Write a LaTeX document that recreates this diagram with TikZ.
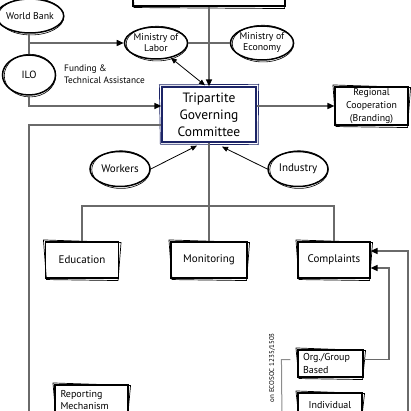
\documentclass[tikz,border=0pt]{standalone}
\usepackage{fontspec}
\setmainfont{PT Sans}
\usetikzlibrary{arrows.meta,shapes.geometric,calc}
\definecolor{lgrey}{HTML}{6A6A6A}
\definecolor{navy}{HTML}{1C2466}
\newcommand{\sketchbox}[1]{\draw[line width=0.7pt] ([shift={(-1.5,-1.5)}]#1.north west) -- ([shift={(2,1)}]#1.north east) -- ([shift={(-1,2)}]#1.south east) -- ([shift={(1.5,1)}]#1.south west) -- cycle;}
\newcommand{\sketchell}[1]{\draw[line width=0.6pt] let \p1=($(#1.east)-(#1.center)$), \p2=($(#1.north)-(#1.center)$) in ([xshift=1pt,yshift=-0.6pt]#1.center) ellipse [x radius=\x1-1.5pt, y radius=\y2+0.6pt];}
\begin{document}
\begin{tikzpicture}[x=1pt,y=-1pt,
  conn/.style={draw=lgrey, line width=1.5pt},
  arr/.style={-{Triangle[length=7pt,width=6pt,color=black]}},
  thinarr/.style={draw=black, line width=0.8pt, -{Triangle[length=6pt,width=5pt]}},
  ell/.style={ellipse, draw, line width=1.5pt, inner sep=0pt, font=\fontsize{9.8}{11}\selectfont, align=center},
  sbox/.style={rectangle, draw, line width=1.1pt, inner sep=0pt, align=center, font=\fontsize{11}{13}\selectfont},
]
\useasboundingbox (0,0) rectangle (411,411);
% top box
\node[sbox, minimum width=152pt, minimum height=50pt] (top) at (209,-19) {};
\sketchbox{top}
% ellipses
\node[ell, minimum width=57pt, minimum height=34pt] (wb) at (30,16) {World Bank};
\node[ell, minimum width=53pt, minimum height=40pt, font=\fontsize{10.5}{12}\selectfont] (ilo) at (29,75) {ILO};
\node[ell, minimum width=58pt, minimum height=32pt] (ml) at (156,43) {Ministry of\\Labor};
\node[ell, minimum width=57pt, minimum height=34pt] (me) at (262,43) {Ministry of\\Economy};
\node[ell, minimum width=60pt, minimum height=35pt, font=\fontsize{11}{12}\selectfont] (wk) at (120,169) {Workers};
\node[ell, minimum width=60pt, minimum height=35pt, font=\fontsize{11}{12}\selectfont] (ind) at (298,169) {Industry};
\sketchell{wb}
\sketchell{ilo}
\sketchell{ml}
\sketchell{me}
\sketchell{wk}
\sketchell{ind}
% central box
\node[sbox, draw=navy, line width=1.3pt, minimum width=94pt, minimum height=55pt, font=\fontsize{13.5}{17}\selectfont] (tri) at (209,114.5) {Tripartite\\Governing\\Committee};
\draw[navy, line width=0.7pt] ([shift={(-2,-1.5)}]tri.north west) -- ([shift={(2,-2)}]tri.north east) -- ([shift={(1.5,2)}]tri.south east) -- ([shift={(-1,1.5)}]tri.south west) -- cycle;
% regional
\node[sbox, minimum width=73pt, minimum height=38pt, font=\fontsize{9.8}{12.8}\selectfont] (reg) at (371.5,106) {Regional\\Cooperation\\(Branding)};
\sketchbox{reg}
% funding label
\node[anchor=west, align=left, inner sep=0pt, font=\fontsize{9.3}{12}\selectfont] (fund) at (64,74) {Funding \&\\Technical Assistance};
% lower boxes
\node[sbox, minimum width=73pt, minimum height=36pt] (edu) at (82,260) {Education};
\node[sbox, minimum width=76pt, minimum height=36pt] (mon) at (209,260) {Monitoring};
\node[sbox, minimum width=72pt, minimum height=36pt] (com) at (334,260) {Complaints};
\node[sbox, minimum width=65pt, minimum height=27pt, align=left, font=\fontsize{10}{12.5}\selectfont, text width=55pt] (org) at (330.5,363.5) {Org./Group\\Based};
\node[sbox, minimum width=64pt, minimum height=24pt, font=\fontsize{10}{12}\selectfont] (indiv) at (330,405) {Individual};
\node[sbox, minimum width=73pt, minimum height=30pt, align=left, text width=62pt, font=\fontsize{10}{11.5}\selectfont] (rep) at (91.5,400) {Reporting\\Mechanism};
\foreach \bx in {edu,mon,com,org,indiv,rep} {\sketchbox{\bx}}
\node[rotate=90, anchor=east, inner sep=0pt, font=\fontsize{7}{8}\selectfont] (eco) at (272,333) {on ECOSOC 1235/1503};
% coordinates
\coordinate (j1) at (29,43);
\coordinate (lb) at (29,425);
\coordinate (bus) at (209,206);
\coordinate (r1) at (389,268);
\coordinate (r2) at (408,425);
\coordinate (g1) at (282,425);
% connectors
\draw[conn] (ilo.north |- wb.south) -- (ilo.north);
\draw[conn, arr] (j1) -- (ml.west);
\draw[conn] (ml.east) -- (me.west);
\draw[conn, arr] (top.south) -- (tri.north);
\draw[thinarr, {Triangle[length=6pt,width=5pt]}-{Triangle[length=6pt,width=5pt]}] (ml.-45) -- ([shift={(-4,-1)}]tri.north);
\draw[conn, arr] (ilo.south) |- (tri.west |- reg.west);
\draw[conn, arr] (tri.east |- reg.west) -- (reg.west);
\draw[conn] ([yshift=-10.5pt]tri.west) -| (lb);
\draw[thinarr] (wk.east) -- ([shift={(-12,3)}]tri.south);
\draw[thinarr] (ind.west) -- ([shift={(13,4)}]tri.south);
\draw[conn] (tri.south) -- (bus);
\draw[conn] (edu.north) |- (bus) -| (com.north);
\draw[conn] (bus) -- (mon.north);
\draw[conn, arr] ([yshift=4pt]org.east) -| (r1) -- ([yshift=-8pt]com.east);
\draw[conn, arr] (r2) |- ([yshift=9pt]com.east);
\draw[draw=black!45, line width=1pt] ([shift={(-7,-4)}]org.west) -- ([shift={(-16,-4)}]org.west) -- (g1);
\end{tikzpicture}
\end{document}
